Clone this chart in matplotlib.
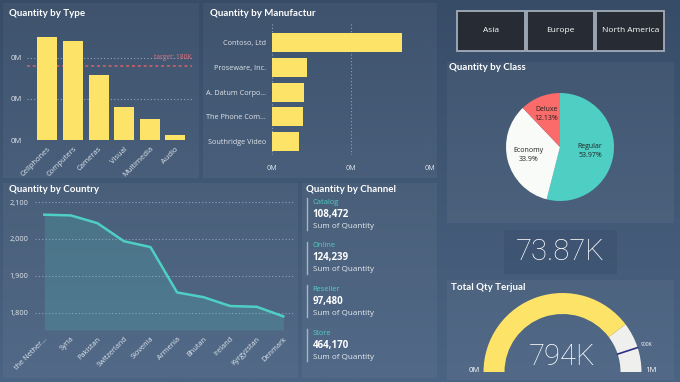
import matplotlib
matplotlib.use('Agg')
import matplotlib.pyplot as plt
import numpy as np
from matplotlib.patches import Rectangle, Wedge
from matplotlib.colors import LinearSegmentedColormap
from matplotlib.ticker import FixedLocator, FuncFormatter

# ---------------- data ----------------
type_cats = ['Cellphones', 'Computers', 'Cameras', 'Visual', 'Multimedia', 'Audio']
type_vals = [252, 241, 159, 80, 52, 12]          # thousands
type_target = 180                                # thousands

manu_cats = ['Contoso, Ltd', 'Proseware, Inc.', 'A. Datum Corpo...', 'The Phone Com...', 'Southridge Video']
manu_vals = [328, 88, 82, 80, 70]                # thousands

slicers = ['Asia', 'Europe', 'North America']

class_cats = ['Regular', 'Economy', 'Deluxe']
class_pcts = [53.97, 33.9, 12.13]

country_cats = ['the Nether...', 'Syria', 'Pakistan', 'Switzerland', 'Slovenia',
                'Armenia', 'Bhutan', 'Ireland', 'Kyrgyzstan', 'Denmark']
country_vals = [2066, 2064, 2043, 1994, 1978, 1855, 1842, 1818, 1816, 1790]

channel_cats = ['Catalog', 'Online', 'Reseller', 'Store']
channel_vals = [108472, 124239, 97480, 464170]

kpi_text = '73.87K'
gauge_value = 794      # thousands
gauge_max = 1000
gauge_target = 900

# ---------------- style ----------------
YELLOW = '#fde468'
TEAL = '#4fcfc4'
SALMON = '#fb6b6a'
OFFWHITE = '#f8fbf7'
TXT = '#dfe5ec'
GRID = '#8fa2b8'
TFONT = 'Lato'

plt.rcParams['font.family'] = ['Open Sans', 'DejaVu Sans']

W, H = 680, 382
fig = plt.figure(figsize=(6.8, 3.82), dpi=100)
bg = fig.add_axes([0, 0, 1, 1])
bg.set_xlim(0, W)
bg.set_ylim(H, 0)
bg.axis('off')
grad = np.linspace(0, 1, 256).reshape(-1, 1)
cmap = LinearSegmentedColormap.from_list('bg', ['#374c67', '#4b6483'])
bg.imshow(grad, extent=[0, W, H, 0], cmap=cmap, aspect='auto', zorder=0)


def add_ax(l, t, r, b):
    a = fig.add_axes([l / W, 1 - b / H, (r - l) / W, (b - t) / H])
    a.set_facecolor('none')
    for s in a.spines.values():
        s.set_visible(False)
    return a


def panel(l, t, r, b, fc='#ffffff', alpha=0.045):
    bg.add_patch(Rectangle((l, t), r - l, b - t, facecolor=fc, alpha=alpha,
                           edgecolor='none', zorder=1))


def title(x, y, s):
    bg.text(x, y, s, color='white', fontsize=7, fontweight='bold',
            family=TFONT, ha='left', va='center', zorder=5)


panels = [(3, 3, 199, 178), (203, 3, 437, 178), (3, 183, 298, 378),
          (302, 183, 437, 378), (447, 62, 674, 223), (447, 280, 674, 380)]
for p in panels:
    panel(*p)

title(9, 13, 'Quantity by Type')
title(210, 13, 'Quantity by Manufactur')
title(449, 68, 'Quantity by Class')
title(9, 190, 'Quantity by Country')
title(306, 190, 'Quantity by Channel')
title(451, 287, 'Total Qty Terjual')

zeroM = FuncFormatter(lambda v, p: f'{v / 1000:.0f}M')

# ---------------- Quantity by Type ----------------
ax1 = add_ax(27, 30, 192, 140)
x1 = np.arange(len(type_cats))
ax1.bar(x1, type_vals, width=0.78, color=YELLOW, zorder=3)
ax1.set_xlim(-0.8, 5.65)
ax1.set_ylim(0, 268)
ax1.yaxis.set_major_locator(FixedLocator([0, 100, 200]))
ax1.yaxis.set_major_formatter(zeroM)
ax1.grid(axis='y', color=GRID, ls=(0, (1, 2)), lw=0.8)
ax1.set_xticks(x1)
ax1.set_xticklabels(type_cats, rotation=45, ha='right', rotation_mode='anchor')
ax1.tick_params(length=0, labelsize=5.5, labelcolor=TXT)
ax1.tick_params(axis='x', pad=4)
ax1.tick_params(axis='y', pad=4)
ax1.axhline(type_target, color='#d9606c', ls=(0, (1.5, 1.5)), lw=1.4, alpha=0.8, zorder=2)
ax1.annotate(f'target: {type_target}K', xy=(1, type_target), xycoords=('axes fraction', 'data'),
             xytext=(0, 6), textcoords='offset points', ha='right', va='center',
             fontsize=4.8, color='#e0707a')

# ---------------- Quantity by Manufacturer ----------------
ax2 = add_ax(271.7, 24, 430.3, 155)
y2 = np.arange(len(manu_cats))
ax2.barh(y2, manu_vals, height=0.77, color=YELLOW, zorder=3)
ax2.set_ylim(4.55, -0.76)
ax2.set_xlim(0, 400)
ax2.xaxis.set_major_locator(FixedLocator([0, 200, 400]))
ax2.xaxis.set_major_formatter(zeroM)
ax2.grid(axis='x', color=GRID, ls=(0, (1, 2)), lw=0.8)
ax2.set_yticks(y2)
ax2.set_yticklabels(manu_cats)
ax2.tick_params(length=0, labelsize=5.2, labelcolor=TXT)
ax2.tick_params(axis='x', pad=7)
ax2.tick_params(axis='y', pad=4)

# ---------------- Slicers ----------------
boxes = [(456.7, 525), (526.7, 594.3), (596, 664.3)]
for (l, r), s in zip(boxes, slicers):
    bg.add_patch(Rectangle((l, 10.7), r - l, 40.3, facecolor='#262b34',
                           edgecolor='#a3adbb', lw=1.3, zorder=4))
    bg.text((l + r) / 2, 31, s, color='white', fontsize=6.0, ha='center',
            va='center', zorder=5)

# ---------------- Quantity by Class (pie) ----------------
ax3 = add_ax(506, 93, 614, 201)
wedges, _ = ax3.pie(class_pcts, colors=[TEAL, OFFWHITE, SALMON], startangle=90,
                    counterclock=False, radius=1, wedgeprops=dict(linewidth=0))
ax3.set_xlim(-1, 1)
ax3.set_ylim(-1, 1)
ax3.set_aspect('equal')
dists = [0.56, 0.6, 0.66]
for w, c, p, d in zip(wedges, class_cats, class_pcts, dists):
    ang = np.deg2rad((w.theta1 + w.theta2) / 2)
    ax3.text(d * np.cos(ang), d * np.sin(ang), f'{c}\n{p:g}%', ha='center',
             va='center', fontsize=5, color='#222222', linespacing=1.3)

# ---------------- KPI card ----------------
bg.add_patch(Rectangle((504, 230), 113, 44, facecolor='#3a506e', alpha=0.55,
                       edgecolor='none', zorder=2))
bg.text(560.5, 252.5, kpi_text, color='white', fontsize=21, family='Roboto',
        fontweight='light', ha='center', va='center', zorder=5)

# ---------------- Quantity by Country ----------------
ax4 = add_ax(35, 197, 295, 330)
x4 = np.arange(len(country_cats))
ax4.fill_between(x4, country_vals, 1753, color=TEAL, alpha=0.18, lw=0, zorder=2)
ax4.plot(x4, country_vals, color=TEAL, lw=1.8, zorder=3)
ax4.set_xlim(-0.35, 9.44)
ax4.set_ylim(1753, 2114)
ax4.yaxis.set_major_locator(FixedLocator([1800, 1900, 2000, 2100]))
ax4.yaxis.set_major_formatter(FuncFormatter(lambda v, p: f'{v:,.0f}'))
ax4.grid(axis='y', color=GRID, ls=(0, (1, 2)), lw=0.8)
ax4.set_xticks(x4)
ax4.set_xticklabels(country_cats, rotation=45, ha='right', rotation_mode='anchor')
ax4.tick_params(length=0, labelsize=5.3, labelcolor=TXT)
ax4.tick_params(axis='x', pad=4)
ax4.tick_params(axis='y', pad=5)

# ---------------- Quantity by Channel ----------------
for i, (c, v) in enumerate(zip(channel_cats, channel_vals)):
    y0 = 198 + i * 43.7
    bg.plot([306.7, 306.7], [y0, y0 + 32], color='#a8b4c3', lw=1.0, zorder=4)
    bg.text(312.7, y0 + 4, c, color=TEAL, fontsize=5.4, ha='left', va='center', zorder=5)
    bg.text(312.7, y0 + 16, f'{v:,}', color='white', fontsize=7, fontweight='bold',
            ha='left', va='center', zorder=5)
    bg.text(312.7, y0 + 28, 'Sum of Quantity', color='#e6ebf0', fontsize=5.8,
            ha='left', va='center', zorder=5)

# ---------------- Gauge ----------------
ax5 = add_ax(447, 280, 674, 380)
ax5.set_xlim(0, 227)
ax5.set_ylim(0, 100)
ax5.axis('off')
cx, cy, R, wd = 115.5, 8, 79, 21
ang_val = 180 - 180 * gauge_value / gauge_max
ax5.add_patch(Wedge((cx, cy), R, 0, ang_val, width=wd, facecolor='#efefee', edgecolor='none'))
ax5.add_patch(Wedge((cx, cy), R, ang_val, 180, width=wd, facecolor=YELLOW, edgecolor='none'))
ang_t = np.deg2rad(180 - 180 * gauge_target / gauge_max)
ax5.plot([cx + (R - wd) * np.cos(ang_t), cx + R * np.cos(ang_t)],
         [cy + (R - wd) * np.sin(ang_t), cy + R * np.sin(ang_t)], color='#2c2f86', lw=1.2)
ax5.text(cx, 23.3, f'{gauge_value}K', color='white', fontsize=21, family='Roboto',
         fontweight='light', ha='center', va='center')
ax5.text(cx - R - 4, 9, '0M', color='white', fontsize=5.5, ha='right', va='center')
ax5.text(cx + R + 4, 9, '1M', color='white', fontsize=5.5, ha='left', va='center')
ax5.text(cx + R * np.cos(ang_t) + 3, cy + R * np.sin(ang_t) + 3, f'{gauge_target}K',
         color='white', fontsize=3.6, ha='left', va='center')

fig.savefig('out.png', dpi=100)
